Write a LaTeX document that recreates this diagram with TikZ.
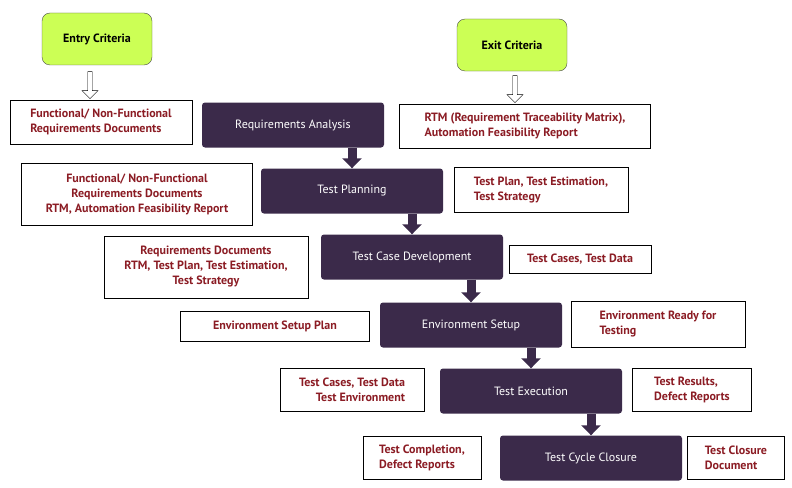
\documentclass[tikz,border=0pt]{standalone}
\usepackage{fontspec}
\setmainfont{PT Sans}
\usetikzlibrary{arrows.meta,shapes.arrows}

\definecolor{stepc}{HTML}{3B2A4A}
\definecolor{docred}{HTML}{8B1C24}
\definecolor{limec}{HTML}{CCFF55}

\begin{document}
\begin{tikzpicture}[x=1pt,y=-1pt,
    step_node/.style={rectangle,rounded corners=3pt,fill=stepc,text=white,minimum width=182pt,minimum height=45pt,font=\fontsize{12}{14}\selectfont},
    doc_node/.style={rectangle,draw,thin,text=docred,font=\bfseries\fontsize{12}{15}\selectfont,inner sep=4pt},
    crit_node/.style={rectangle,rounded corners=8pt,draw=black!70,fill=limec,minimum width=110pt,minimum height=52pt,font=\bfseries\fontsize{12}{14}\selectfont},
    hollow/.style={single arrow,draw,thin,fill=white,shape border rotate=270,minimum height=27pt,minimum width=16pt,single arrow head extend=3pt,inner sep=1pt},
    flow/.style={stepc,line width=9pt,-{Triangle[width=19pt,length=10pt]}}]
    \useasboundingbox (0,0) rectangle (792,487);

    \node[crit_node] (entry) at (97,39) {Entry Criteria};
    \node[crit_node] (exit) at (512,45) {Exit Criteria};
    \node[hollow] (entryarrow) at (90,84) {};
    \node[hollow] (exitarrow) at (515,88) {};

    \node[step_node] (ra) at (293,125) {Requirements Analysis};
    \node[step_node] (tp) at (352,191) {Test Planning};
    \node[step_node] (tc) at (412,257) {Test Case Development};
    \node[step_node] (es) at (471,325) {Environment Setup};
    \node[step_node] (te) at (531,391) {Test Execution};
    \node[step_node] (cc) at (591,458) {Test Cycle Closure};

    \draw[flow] (ra.south -| tp.center) -- (tp.north -| tp.center);
    \draw[flow] (tp.south -| tc.center) -- (tc.north -| tc.center);
    \draw[flow] (tc.south -| es.center) -- (es.north -| es.center);
    \draw[flow] (es.south -| te.center) -- (te.north -| te.center);
    \draw[flow] (te.south -| cc.center) -- (cc.north -| cc.center);

    \node[doc_node,align=left,minimum width=182pt,minimum height=44pt] (ra_in) at (101,122) {Functional/ Non-Functional\\Requirements Documents};
    \node[doc_node,align=left,minimum width=251pt,minimum height=44pt] (ra_out) at (525,126) {RTM (Requirement Traceability Matrix),\\Automation Feasibility Report};
    \node[doc_node,align=center,minimum width=231pt,minimum height=62pt] (tp_in) at (137,194) {Functional/ Non-Functional\\Requirements Documents\\RTM, Automation Feasibility Report};
    \node[doc_node,align=left,minimum width=174pt,minimum height=45pt] (tp_out) at (541,190) {Test Plan, Test Estimation,\\Test Strategy};
    \node[doc_node,align=center,minimum width=204pt,minimum height=62pt] (tc_in) at (206,267) {Requirements Documents\\RTM, Test Plan, Test Estimation,\\Test Strategy};
    \node[doc_node,align=left,minimum width=142pt,minimum height=28pt] (tc_out) at (580,259) {Test Cases, Test Data};
    \node[doc_node,minimum width=189pt,minimum height=30pt] (es_in) at (275,326) {Environment Setup Plan};
    \node[doc_node,align=left,minimum width=174pt,minimum height=46pt] (es_out) at (658,324) {Environment Ready for\\Testing};
    \node[doc_node,align=right,minimum width=144pt,minimum height=43pt] (te_in) at (352,390) {Test Cases, Test Data\\Test Environment};
    \node[doc_node,align=left,minimum width=119pt,minimum height=43pt] (te_out) at (692,390) {Test Results,\\Defect Reports};
    \node[doc_node,align=left,minimum width=118pt,minimum height=43pt] (cc_in) at (422,458) {Test Completion,\\Defect Reports};
    \node[doc_node,align=left,minimum width=97pt,minimum height=43pt] (cc_out) at (736,458) {Test Closure\\Document};
\end{tikzpicture}
\end{document}
